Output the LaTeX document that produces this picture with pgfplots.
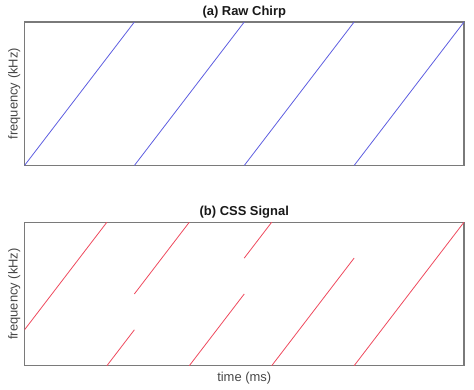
\documentclass[border=0pt]{standalone}
\usepackage{pgfplots}
\pgfplotsset{compat=1.18}
\usepackage{fontspec}
\setmainfont{Liberation Sans}
\definecolor{chirpblue}{HTML}{5E5EE0}
\definecolor{chirpred}{HTML}{EE4A5E}
\definecolor{framegray}{HTML}{7A7A7A}
\pgfplotsset{
  panel/.style={
    scale only axis,
    width=439.5bp, height=143.5bp,
    xmin=0, xmax=4, ymin=0, ymax=1,
    ticks=none,
    axis line style={framegray, line width=1.1bp},
    clip=true,
    font=\fontsize{12}{14}\selectfont,
    title style={font=\fontsize{13}{15}\selectfont\bfseries, color=black!90, at={(axis description cs:0.5,1)}, anchor=base, inner sep=0pt, yshift=0.5bp},
    ylabel={frequency (kHz)},
    ylabel style={font=\fontsize{13}{14}\selectfont, color=black!72, at={(axis description cs:-0.009,0.5)}, anchor=south, inner sep=0pt},
  }
}
\begin{document}
\begin{tikzpicture}
\path (0,0) rectangle (474bp,390bp);
\begin{axis}[panel, at={(24.5bp,224.5bp)}, anchor=south west,
  title={(a) Raw Chirp}]
\addplot[chirpblue, line width=0.8bp] coordinates {(0,0) (1,1)};
\addplot[chirpblue, line width=0.8bp] coordinates {(1,0) (2,1)};
\addplot[chirpblue, line width=0.8bp] coordinates {(2,0) (3,1)};
\addplot[chirpblue, line width=0.8bp] coordinates {(3,0) (4,1)};
\end{axis}
\begin{axis}[panel, at={(24.5bp,24.3bp)}, anchor=south west,
  title={(b) CSS Signal},
  xlabel={time (ms)},
  xlabel style={font=\fontsize{13}{14}\selectfont, color=black!72, at={(axis description cs:0.5,0)}, anchor=north, inner sep=0pt, yshift=-6.5bp}]
\addplot[chirpred, line width=0.8bp] coordinates {(0,0.25) (0.75,1)};
\addplot[chirpred, line width=0.8bp] coordinates {(0.75,0) (1,0.25)};
\addplot[chirpred, line width=0.8bp] coordinates {(1,0.5) (1.5,1)};
\addplot[chirpred, line width=0.8bp] coordinates {(1.5,0) (2,0.5)};
\addplot[chirpred, line width=0.8bp] coordinates {(2,0.75) (2.25,1)};
\addplot[chirpred, line width=0.8bp] coordinates {(2.25,0) (3,0.75)};
\addplot[chirpred, line width=0.8bp] coordinates {(3,0) (4,1)};
\end{axis}
\end{tikzpicture}
\end{document}
